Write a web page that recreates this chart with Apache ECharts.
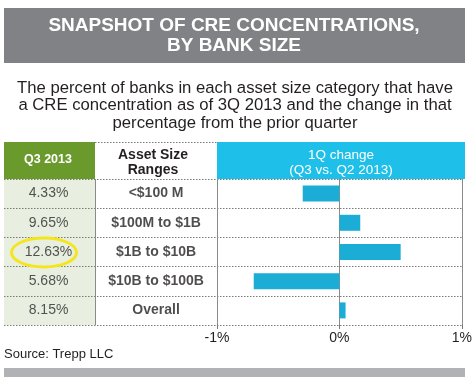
<!DOCTYPE html>
<html>
<head>
<meta charset="utf-8">
<script src="https://cdn.jsdelivr.net/npm/echarts@6/dist/echarts.min.js"></script>
<style>
  html, body { margin: 0; padding: 0; background: #fff; }
  #chart { width: 475px; height: 386px; }
</style>
</head>
<body>
<div id="chart"></div>
<script>
// ---- data ----
const categories = ['<$100 M', '$100M to $1B', '$1B to $10B', '$10B to $100B', 'Overall'];
const shareQ3 = [4.33, 9.65, 12.63, 5.68, 8.15];          // % of banks with CRE concentration, Q3 2013
const change1Q = [-0.30, 0.17, 0.50, -0.70, 0.05];        // change vs Q2 2013 (percentage points)
const xTicks = [-1, 0, 1];

const FONT = '"Liberation Sans", Arial, Helvetica, sans-serif';
const chart = echarts.init(document.getElementById('chart'), null, { renderer: 'canvas' });

const txt = (x, y, text, size, opts = {}) => ({
  type: 'text', z: 10,
  style: Object.assign({
    x, y, text, fill: '#231f20',
    font: (opts.weight || 'normal') + ' ' + size + 'px ' + FONT,
    textAlign: 'center', textVerticalAlign: 'middle'
  }, opts.style || {})
});

chart.setOption({
  animation: false,
  grid: [
    { left: 4, top: 179, width: 213, height: 146 },
    { left: 217, top: 179, width: 248, height: 146 }
  ],
  xAxis: [
    { gridIndex: 0, type: 'value', min: 0, max: 1, show: false },
    {
      gridIndex: 1, type: 'value', min: xTicks[0], max: xTicks[xTicks.length - 1], interval: 1,
      axisLine: { show: false },
      axisTick: { show: true, length: 4, lineStyle: { color: '#777' } },
      axisLabel: { formatter: v => v + '%', fontFamily: FONT, fontSize: 14, color: '#231f20', margin: 6 },
      splitLine: { show: true, lineStyle: { color: '#8a8a8a', width: 1 } }
    }
  ],
  yAxis: [
    {
      gridIndex: 0, type: 'category', data: categories, inverse: true,
      axisLine: { show: false }, axisTick: { show: false }, axisLabel: { show: false },
      splitLine: { show: true, lineStyle: { color: '#7a7a7a', type: [1.5, 1.5], width: 1 } }
    },
    {
      gridIndex: 1, type: 'category', data: categories, inverse: true,
      axisLine: { show: false }, axisTick: { show: false }, axisLabel: { show: false },
      splitLine: { show: true, lineStyle: { color: '#7a7a7a', type: [1.5, 1.5], width: 1 } }
    }
  ],
  series: [
    {
      type: 'bar', xAxisIndex: 1, yAxisIndex: 1,
      data: change1Q, barWidth: 16,
      itemStyle: { color: '#1badd6' }
    },
    {
      type: 'scatter', xAxisIndex: 0, yAxisIndex: 0, symbolSize: 0, silent: true,
      data: shareQ3.map((v, i) => [0.209, i, v]),
      label: {
        show: true, position: 'inside',
        formatter: p => p.value[2].toFixed(2) + '%',
        fontFamily: FONT, fontSize: 14, color: '#2b2b2b'
      },
      markLine: {
        silent: true, symbol: 'none', label: { show: false },
        lineStyle: { color: '#8a8a8a', type: 'solid', width: 1 },
        data: [{ xAxis: 0.427 }]
      }
    },
    {
      type: 'scatter', xAxisIndex: 0, yAxisIndex: 0, symbolSize: 0, silent: true,
      data: categories.map((c, i) => [0.714, i]),
      label: {
        show: true, position: 'inside',
        formatter: p => categories[p.value[1]],
        fontFamily: FONT, fontSize: 14, fontWeight: 'bold', color: '#231f20'
      }
    }
  ],
  graphic: [
    // title band
    { type: 'rect', z: -5, shape: { x: 4, y: 8, width: 461, height: 55 }, style: { fill: '#808285' } },
    txt(234, 26, 'SNAPSHOT OF CRE CONCENTRATIONS,', 19, { weight: 'bold', style: { fill: '#ffffff' } }),
    txt(234, 46, 'BY BANK SIZE', 19, { weight: 'bold', style: { fill: '#ffffff' } }),
    // subtitle
    txt(235, 88, 'The percent of banks in each asset size category that have', 16.7),
    txt(235, 105, 'a CRE concentration as of 3Q 2013 and the change in that', 16.7),
    txt(235, 123, 'percentage from the prior quarter', 16.7),
    // header cells
    { type: 'rect', z: -5, shape: { x: 4, y: 142, width: 91, height: 37 }, style: { fill: '#6a9a2c' } },
    { type: 'rect', z: -5, shape: { x: 217, y: 142, width: 248, height: 37 }, style: { fill: '#1ec0ea' } },
    { type: 'line', z: -4, shape: { x1: 95, y1: 142.5, x2: 217, y2: 142.5 }, style: { stroke: '#7a7a7a', lineWidth: 1, lineDash: [1.5, 1.5] } },
    // light green column background
    { type: 'rect', z: -5, shape: { x: 4, y: 179, width: 91, height: 146 }, style: { fill: '#e9efe0' } },
    txt(48, 160, 'Q3 2013', 12.5, { weight: 'bold', style: { fill: '#ffffff' } }),
    txt(153, 155, 'Asset Size', 14, { weight: 'bold' }),
    txt(153, 170, 'Ranges', 14, { weight: 'bold' }),
    txt(341, 155, '1Q change', 13.5, { style: { fill: '#ffffff' } }),
    txt(341, 170, '(Q3 vs. Q2 2013)', 13.5, { style: { fill: '#ffffff' } }),
    // highlight ellipse
    { type: 'ellipse', z: 20, shape: { cx: 44, cy: 252.5, rx: 32.5, ry: 14.5 }, style: { fill: 'none', stroke: '#f3e61c', lineWidth: 3 } },
    // source & bottom band
    txt(4, 354, 'Source: Trepp LLC', 13, { style: { textAlign: 'left' } }),
    { type: 'rect', z: -5, shape: { x: 4, y: 368, width: 461, height: 9 }, style: { fill: '#b0b2b5' } }
  ]
});
</script>
</body>
</html>
